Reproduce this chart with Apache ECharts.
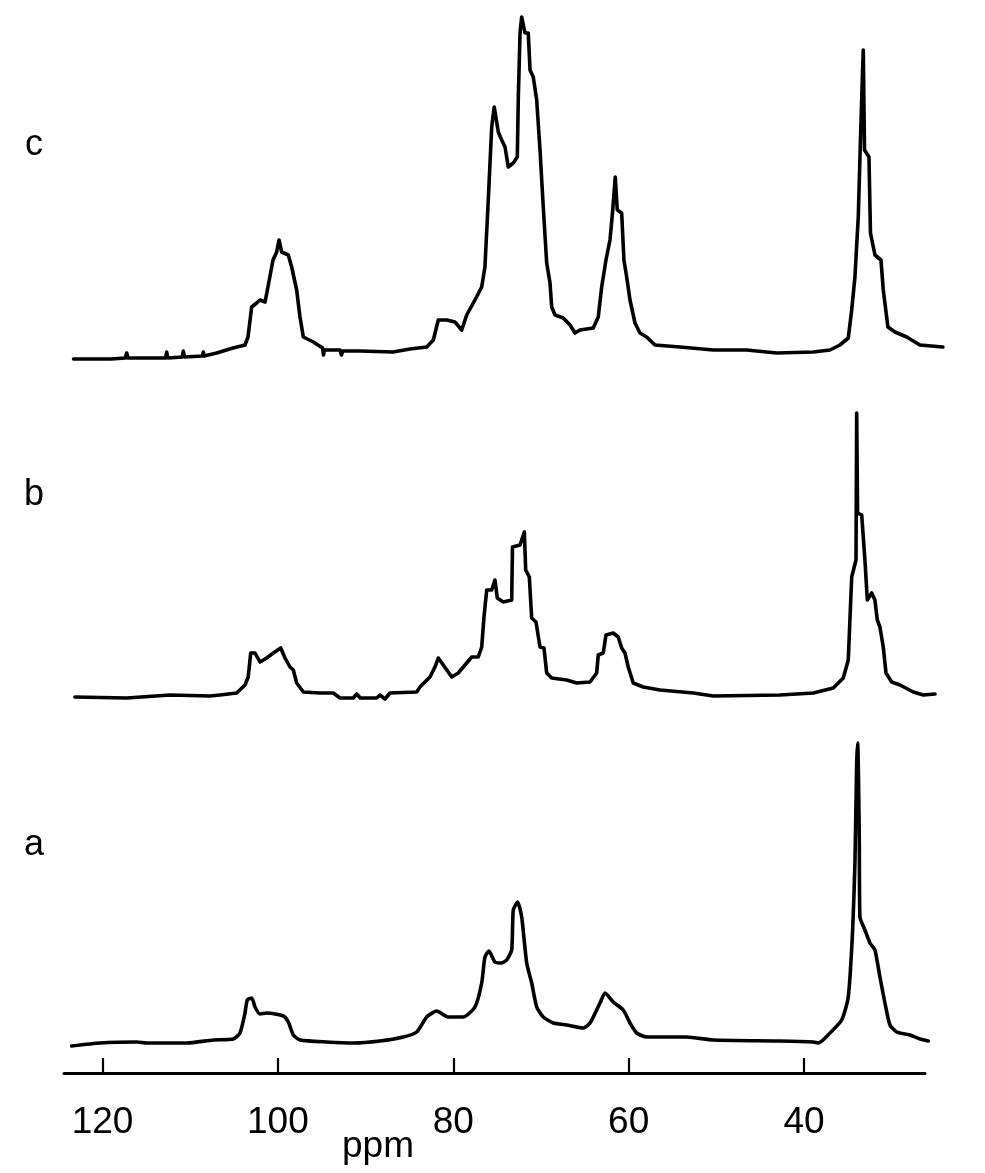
<!DOCTYPE html>
<html>
<head>
<meta charset="utf-8">
<script src="https://cdn.jsdelivr.net/npm/echarts@6/dist/echarts.min.js"></script>
<style>
  html, body { margin: 0; padding: 0; background: #fff; }
  #chart { width: 985px; height: 1173px; }
</style>
</head>
<body>
<div id="chart"></div>
<script>
// ---- Data (chemical shift in ppm, intensity in arbitrary units) ----
const tickValues = [120, 100, 80, 60, 40];
const traceLabels = ['c', 'b', 'a'];
const axisName = 'ppm';

const cPpm = [123.3,119.0,117.4,117.24,117.1,114.0,112.8,112.68,112.55,110.9,110.79,110.65,108.6,108.51,108.4,106.98,105.12,103.75,103.41,102.99,102.42,102.04,101.47,101.13,100.56,100.14,99.87,99.57,98.81,98.43,97.86,97.48,97.10,95.96,95.43,94.9,94.8,94.7,92.92,92.75,92.6,90.64,86.88,84.94,83.03,82.28,81.71,80.75,79.81,79.04,78.47,77.53,76.76,76.39,76.01,75.62,75.33,74.87,74.48,74.10,73.73,73.16,72.70,72.59,72.39,72.20,71.82,71.45,71.25,70.88,70.49,70.11,69.74,69.35,68.97,68.78,68.40,67.46,66.69,66.12,65.55,64.04,63.47,63.08,62.59,62.13,61.82,61.53,61.30,60.80,60.54,60.23,59.85,59.28,58.71,57.95,57.00,54.15,50.35,46.54,43.12,38.95,37.05,35.91,34.96,34.57,34.20,33.82,33.55,33.25,33.11,32.60,32.43,31.92,31.23,30.97,30.44,29.63,28.30,26.79,24.17];
const cInt = [1,1,2,7,2,2,2,8,2,3,9,3,4,8,4,7,12,15,23,53,57,60,58,73,100,108,120,108,105,93,70,43,23,18,15,12,5,10,10,5,9,9,8,11,13,20,40,40,38,30,45,60,73,93,160,233,253,228,220,213,193,197,203,260,327,343,327,327,290,283,260,210,153,97,77,53,45,42,35,27,30,32,43,73,100,120,150,183,150,147,100,83,60,37,27,23,15,13,10,10,7,8,10,15,22,50,83,143,227,310,210,203,127,105,100,70,33,28,23,15,13];

const bPpm = [123.14,117.24,112.30,107.74,106.60,104.70,103.75,103.38,103.10,102.61,102.04,101.28,100.52,99.68,99.19,98.62,98.24,97.86,97.10,95.20,93.68,92.92,91.40,91.01,90.6,88.73,88.36,87.79,87.22,84.17,83.80,82.66,82.09,81.71,81.14,80.18,79.43,78.67,77.90,77.15,76.76,76.50,76.19,75.62,75.25,74.98,74.30,73.34,73.25,72.39,71.90,71.74,71.33,71.06,70.57,70.11,69.66,69.35,68.78,67.07,65.93,64.41,63.65,63.47,62.90,62.59,61.76,61.19,60.80,60.42,60.05,59.48,58.34,56.43,52.63,50.35,42.75,38.95,36.67,35.53,34.96,34.57,34.08,34.00,33.90,33.43,33.06,32.79,32.29,31.92,31.65,31.35,30.97,30.66,30.01,29.06,27.55,26.41,25.07];
const bInt = [1,0,3,2,3,5,13,21,45,45,36,40,45,50,40,31,28,15,6,5,5,0,0,4,0,0,3,-1,5,6,11,21,31,40,33,21,25,33,41,41,51,81,108,108,118,100,96,98,151,153,166,128,121,80,76,51,50,25,20,18,15,16,25,43,45,63,65,61,50,45,31,15,11,8,5,2,3,5,10,20,38,121,138,285,185,183,138,98,105,98,78,71,51,25,16,13,6,3,4];

const aPpm = [123.51,120.28,116.10,114.96,110.40,107.37,105.09,104.32,103.75,103.49,102.98,102.61,102.04,101.28,99.38,98.81,98.24,97.48,94.44,91.40,88.36,85.70,84.17,83.03,81.89,80.57,78.86,77.53,76.76,76.39,75.93,75.25,74.48,73.91,73.34,73.16,72.66,72.20,71.63,71.06,70.49,69.74,68.60,67.07,65.18,64.41,63.27,62.70,61.76,60.62,59.85,59.09,57.95,53.39,50.35,42.75,38.95,38.38,37.05,35.71,34.96,34.46,34.20,34.00,33.89,33.71,33.63,33.06,32.49,31.92,31.35,30.78,30.21,29.44,27.92,26.78,25.84];
const aInt = [2,5,6,5,5,8,9,15,35,48,50,41,34,35,32,26,13,8,6,5,7,11,16,31,37,31,31,41,65,91,97,86,85,88,98,138,146,131,85,65,41,31,25,23,20,25,45,55,46,38,25,15,11,11,8,7,6,5,15,28,51,118,185,285,305,218,131,118,105,98,71,45,23,16,13,9,7];

// ---- Build chart ----
const zip = (xs, ys) => xs.map((x, i) => [x, ys[i]]);
const traces = [zip(cPpm, cInt), zip(bPpm, bInt), zip(aPpm, aInt)];

const FONT = '"Liberation Sans", Arial, Helvetica, sans-serif';
const gridTops = [10, 348, 698];
const AXIS_MIN = 26.21, AXIS_MAX = 124.39;   // span of the drawn ppm axis
const TRACE_MIN = 23.93;                      // traces run a little past the axis end (same scale)

const chart = echarts.init(document.getElementById('chart'), null, { renderer: 'canvas' });

const traceGrids = gridTops.map(t => ({ left: 64, right: 40, top: t, height: 350 }));
const axisGrid = { left: 64, right: 60, top: gridTops[2], height: 350 };

const traceXAxes = gridTops.map((t, i) => ({
  type: 'value', gridIndex: i, min: TRACE_MIN, max: AXIS_MAX, inverse: true, show: false
}));
const scaleXAxis = {
  type: 'value',
  gridIndex: 3,
  min: AXIS_MIN,
  max: AXIS_MAX,
  inverse: true,
  offset: 25,
  splitLine: { show: false },
  axisLine: { show: true, onZero: false, lineStyle: { color: '#000', width: 3 } },
  axisTick: { show: true, inside: true, length: 15, customValues: tickValues, lineStyle: { color: '#000', width: 2.2 } },
  axisLabel: { show: true, customValues: tickValues, margin: 31, color: '#000', fontSize: 37, fontFamily: FONT }
};

const option = {
  backgroundColor: '#ffffff',
  animation: false,
  grid: [...traceGrids, axisGrid],
  xAxis: [...traceXAxes, scaleXAxis],
  yAxis: [0, 1, 2, 3].map(i => ({ type: 'value', gridIndex: i, min: 0, max: 350, show: false })),
  series: traces.map((d, i) => ({
    type: 'line',
    xAxisIndex: i,
    yAxisIndex: i,
    data: d,
    showSymbol: false,
    symbol: 'none',
    clip: false,
    smooth: i === 2 ? 0.2 : false,
    lineStyle: { color: '#000', width: 3.6, join: 'round', cap: 'round' }
  })),
  graphic: [
    ...traceLabels.map((lab, i) => ({
      type: 'text',
      x: 34,
      y: 145 + i * 350,
      style: { text: lab, fill: '#000', fontSize: 36, fontFamily: FONT, align: 'center', verticalAlign: 'middle', textAlign: 'center', textVerticalAlign: 'middle' }
    })),
    {
      type: 'text',
      x: 378,
      y: 1147,
      style: { text: axisName, fill: '#000', fontSize: 37, fontFamily: FONT, align: 'center', verticalAlign: 'middle', textAlign: 'center', textVerticalAlign: 'middle' }
    }
  ]
};

chart.setOption(option);
</script>
</body>
</html>
